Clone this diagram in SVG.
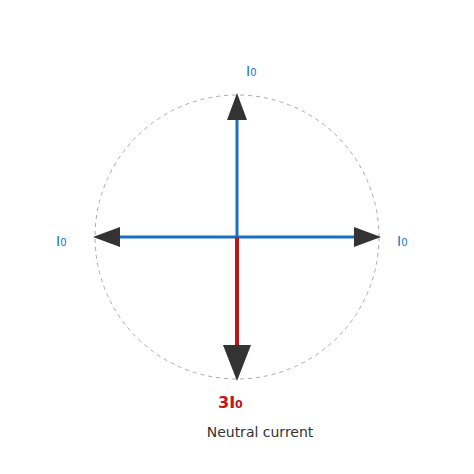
<svg xmlns="http://www.w3.org/2000/svg" width="474" height="474" viewBox="0 0 474 474">
<style>
.lbl{font-family:"DejaVu Sans",sans-serif;font-size:14px;fill:#1a75c2}
.sub{font-size:10px}
.head{fill:#333333}
</style>
<rect width="474" height="474" fill="#ffffff"/>
<circle cx="237" cy="237" r="142" fill="none" stroke="#aaaaaa" stroke-width="1" stroke-dasharray="4,4"/>
<g id="connectors">
<line x1="237" y1="237" x2="237" y2="118" stroke="#1a6fc4" stroke-width="3"/>
<line x1="237" y1="237" x2="120" y2="237" stroke="#1a6fc4" stroke-width="3"/>
<line x1="237" y1="237" x2="356" y2="237" stroke="#1a6fc4" stroke-width="3"/>
<line x1="237" y1="237" x2="237" y2="348" stroke="#b81818" stroke-width="4"/>
<polygon class="head" points="237,93 227,120 247,120"/>
<polygon class="head" points="93,237 120,227 120,247"/>
<polygon class="head" points="381,237 354,227 354,247"/>
<polygon class="head" points="237,381 223,345 251,345"/>
</g>
<g id="label-top"><text class="lbl" x="246" y="76">I<tspan class="sub">0</tspan></text></g>
<g id="label-left"><text class="lbl" x="56" y="246">I<tspan class="sub">0</tspan></text></g>
<g id="label-right"><text class="lbl" x="397" y="246">I<tspan class="sub">0</tspan></text></g>
<g id="label-bottom"><text x="218" y="408" style="font-family:'DejaVu Sans',sans-serif;font-size:16px;font-weight:bold;fill:#c41414">3I<tspan style="font-size:11px">0</tspan></text></g>
<g id="caption"><text x="260" y="437" text-anchor="middle" style="font-family:'DejaVu Sans',sans-serif;font-size:14px;fill:#333333">Neutral current</text></g>
</svg>
